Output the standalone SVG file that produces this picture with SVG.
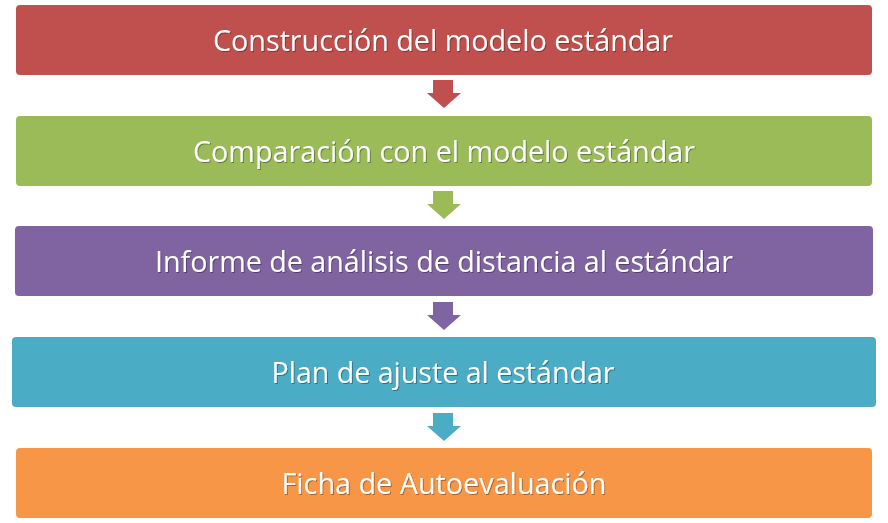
<svg xmlns="http://www.w3.org/2000/svg" width="888" height="523" viewBox="0 0 888 523">
<defs>
<style>
.lbl{font-family:"Open Sans","Liberation Sans",sans-serif;font-size:29px;fill:#ffffff;text-anchor:middle;filter:url(#sh)}
.box{stroke:none}
</style>
<filter id="sh" x="-5%" y="-20%" width="110%" height="140%">
<feDropShadow dx="1" dy="1" stdDeviation="0.6" flood-color="#000" flood-opacity="0.35"/>
</filter>
</defs>
<rect width="888" height="523" fill="#ffffff"/>
<g id="connectors">
<polygon points="433,80 453,80 453,93 461,93 444,108 427,93 433,93" fill="#C0504D"/>
<polygon points="433,191 453,191 453,204 461,204 444,219 427,204 433,204" fill="#9BBB59"/>
<polygon points="433,302 453,302 453,315 461,315 444,330 427,315 433,315" fill="#8064A2"/>
<polygon points="433,413 453,413 453,426 461,426 444,441 427,426 433,426" fill="#4BACC6"/>
</g>
<g id="n1">
<rect class="box" x="16" y="5" width="856" height="70" rx="4" fill="#C0504D"/>
<text class="lbl" x="443" y="51" textLength="460" lengthAdjust="spacingAndGlyphs">Construcción del modelo estándar</text>
</g>
<g id="n2">
<rect class="box" x="16" y="116" width="856" height="70" rx="4" fill="#9BBB59"/>
<text class="lbl" x="444" y="162" textLength="502" lengthAdjust="spacingAndGlyphs">Comparación con el modelo estándar</text>
</g>
<g id="n3">
<rect class="box" x="15" y="226" width="858" height="70" rx="4" fill="#8064A2"/>
<text class="lbl" x="444" y="272" textLength="578" lengthAdjust="spacingAndGlyphs">Informe de análisis de distancia al estándar</text>
</g>
<g id="n4">
<rect class="box" x="12" y="337" width="864" height="70" rx="4" fill="#4BACC6"/>
<text class="lbl" x="443" y="383" textLength="343" lengthAdjust="spacingAndGlyphs">Plan de ajuste al estándar</text>
</g>
<g id="n5">
<rect class="box" x="16" y="448" width="856" height="70" rx="4" fill="#F79646"/>
<text class="lbl" x="444" y="494" textLength="325" lengthAdjust="spacingAndGlyphs">Ficha de Autoevaluación</text>
</g>
</svg>
